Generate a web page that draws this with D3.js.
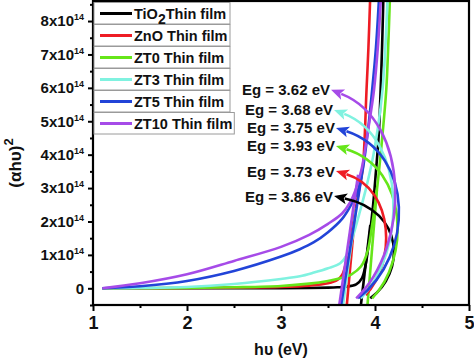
<!DOCTYPE html>
<html><head><meta charset="utf-8">
<script src="https://cdn.jsdelivr.net/npm/d3@7"></script>
<style>
body{margin:0;background:#fff}
svg{display:block}
text{font-family:Arial,"Liberation Sans",sans-serif;font-weight:bold;fill:#111}
</style>
</head><body>
<svg id="c" width="474" height="360"></svg>
<script>
// ---------------- data ----------------
const seriesNames = ["TiO", "ZnO ", "ZT0 ", "ZT3 ", "ZT5 ", "ZT10 "];
const legendSuffix = "Thin film";
const colors = ["#000000", "#ee1c24", "#66e619", "#80f2e0", "#2244d8", "#a64be8"];

const tio2Hv  = [1.1,1.5,2.0,2.5,3.0,3.3,3.5,3.6,3.7,3.8,3.86,3.9,3.94,3.98,4.01,4.04,4.06,4.075,4.09];
const tio2Val = [0,0,0,0,0,0.01,0.02,0.03,0.05,0.12,0.3,0.7,1.5,2.5,3.5,4.6,5.95,7.2,8.8];
const znoHv   = [1.1,1.5,2.0,2.5,3.0,3.3,3.5,3.6,3.65,3.69,3.74,3.79,3.83,3.87,3.91,3.93,3.95];
const znoVal  = [0,0,0.01,0.02,0.04,0.08,0.15,0.25,0.4,0.75,1.5,2.3,2.94,3.6,5.95,7.2,8.8];
const zt0Hv   = [1.1,1.5,2.0,2.5,3.0,3.3,3.5,3.63,3.75,3.85,3.92,3.97,4.02,4.07,4.12,4.14,4.16];
const zt0Val  = [0,0,0.01,0.03,0.07,0.14,0.22,0.3,0.42,0.65,1.1,1.9,2.94,4.3,5.95,7.2,8.8];
const zt3Hv   = [1.1,1.5,2.0,2.5,3.0,3.2,3.35,3.5,3.63,3.7,3.76,3.83,3.9,3.97,4.03,4.08,4.11,4.135];
const zt3Val  = [0,0.01,0.04,0.13,0.28,0.36,0.47,0.6,0.75,1.0,1.5,2.2,2.94,3.8,4.8,5.95,7.2,8.8];
const zt5Hv   = [1.1,1.5,2.0,2.5,3.0,3.2,3.35,3.5,3.65,3.73,3.8,3.86,3.92,3.97,4.01,4.045];
const zt5Val  = [0,0.06,0.22,0.52,0.95,1.17,1.38,1.68,2.08,2.42,2.8,3.4,4.6,5.95,7.2,8.8];
const zt10Hv  = [1.1,1.5,2.0,2.5,3.0,3.3,3.5,3.65,3.73,3.8,3.86,3.93,3.99,4.03,4.065];
const zt10Val = [0,0.15,0.42,0.82,1.24,1.6,1.93,2.24,2.55,3.0,3.6,4.8,5.95,7.2,8.8];

const seriesHv  = [tio2Hv, znoHv, zt0Hv, zt3Hv, zt5Hv, zt10Hv];
const seriesVal = [tio2Val, znoVal, zt0Val, zt3Val, zt5Val, zt10Val];

// extrapolated linear fits (hv, value pairs)
const tangentHv  = [[3.85,3.95],[3.70,3.79],[3.92,4.02],[3.66,3.80],[3.64,3.86],[3.62,3.82]];
const tangentVal = [[-0.5,1.9],[-0.5,2.3],[-0.5,2.94],[-0.5,2.4],[-0.5,3.4],[-0.5,3.4]];

// band-gap annotations (anchored in data units)
const egLabels    = ["Eg = 3.86 eV","Eg = 3.73 eV","Eg = 3.93 eV","Eg = 3.68 eV","Eg = 3.75 eV","Eg = 3.62 eV"];
const arrowTipHv  = [3.564,3.585,3.585,3.564,3.585,3.532];
const arrowTipVal = [2.76,3.51,4.26,5.34,4.80,5.94];
const arrowBulge  = [4.18,4.10,4.22,4.18,4.24,4.20];
const arrowEndHv  = [3.95,3.90,3.97,3.85,3.82,3.80];
const arrowEndVal = [-0.3,-0.2,-0.3,-0.3,-0.3,-0.3];

const xTicks = [1,2,3,4,5];
const xMinor = [1.5,2.5,3.5,4.5];
const yTicks = [0,1,2,3,4,5,6,7,8];
const yMinor = [-0.5,0.5,1.5,2.5,3.5,4.5,5.5,6.5,7.5,8.5];

// ---------------- chart ----------------
const svg = d3.select("#c");
const x = d3.scaleLinear().domain([1,5]).range([93,469]);
const y = d3.scaleLinear().domain([-0.5,8.6]).range([305,1]);

svg.append("defs").append("clipPath").attr("id","clip")
  .append("rect").attr("x",x(1)).attr("y",y(8.6)).attr("width",x(5)-x(1)).attr("height",y(-0.5)-y(8.6));

const plot = svg.append("g").attr("clip-path","url(#clip)");
const line = d3.line().x(d=>x(d[0])).y(d=>y(d[1])).curve(d3.curveCatmullRom.alpha(0.5));
const straight = d3.line().x(d=>x(d[0])).y(d=>y(d[1]));

seriesHv.forEach((hv,i)=>{
  const pts = hv.map((h,j)=>[h, seriesVal[i][j]]);
  plot.append("path").attr("d", line(pts)).attr("fill","none")
    .attr("stroke", colors[i]).attr("stroke-width",2.6).attr("stroke-linejoin","round");
  const tp = tangentHv[i].map((h,j)=>[h, tangentVal[i][j]]);
  plot.append("path").attr("d", straight(tp)).attr("fill","none")
    .attr("stroke", colors[i]).attr("stroke-width",2.6);
});

// arrows
egLabels.forEach((lab,i)=>{
  const sx = x(arrowTipHv[i]), sy = y(arrowTipVal[i]);
  const ex = x(arrowEndHv[i]), ey = y(arrowEndVal[i]);
  const xc = (x(arrowBulge[i]) - 0.125*(sx+ex))/0.75;
  const c1y = sy + 0.15*(ey-sy), c2y = ey - 0.25*(ey-sy);
  const dx = xc - sx, dy = c1y - sy, L = Math.hypot(dx,dy);
  const ux = dx/L, uy = dy/L;
  const hl = 13, hw = 5.5;
  const bx = sx + ux*hl, by = sy + uy*hl;
  plot.append("path")
    .attr("d", `M${bx - ux*2},${by - uy*2} C${xc},${c1y} ${xc},${c2y} ${ex},${ey}`)
    .attr("fill","none").attr("stroke",colors[i]).attr("stroke-width",2.6);
  plot.append("path")
    .attr("d", `M${sx},${sy} L${bx - uy*hw},${by + ux*hw} L${bx - ux*3},${by - uy*3} L${bx + uy*hw},${by - ux*hw} Z`)
    .attr("fill",colors[i]);
  svg.append("text").attr("x", sx-1).attr("y", sy+5.5).attr("text-anchor","end")
    .style("font-size","15px").text(lab);
});

// axes
const gx = svg.append("g").attr("transform",`translate(0,${y(-0.5)})`);
gx.call(d3.axisBottom(x).tickValues(xTicks).tickSize(6).tickSizeOuter(0).tickPadding(5).tickFormat(d3.format("d")));
const gxm = svg.append("g").attr("transform",`translate(0,${y(-0.5)})`);
gxm.call(d3.axisBottom(x).tickValues(xMinor).tickSize(3).tickSizeOuter(0).tickFormat(""));
const gy = svg.append("g").attr("transform",`translate(${x(1)},0)`);
gy.call(d3.axisLeft(y).tickValues(yTicks).tickSize(5).tickSizeOuter(0).tickPadding(4));
const gym = svg.append("g").attr("transform",`translate(${x(1)},0)`);
gym.call(d3.axisLeft(y).tickValues(yMinor).tickSize(3).tickSizeOuter(0).tickFormat(""));

[gx,gxm,gy,gym].forEach(g=>{
  g.selectAll("path.domain").remove();
  g.selectAll(".tick line").attr("stroke","#000").attr("stroke-width",2);
});
gx.selectAll(".tick text").style("font-size","18px").style("font-family","Arial,'Liberation Sans',sans-serif").style("font-weight","bold").attr("fill","#111");
gy.selectAll(".tick text").each(function(d){
  const t = d3.select(this).text("").attr("fill","#111")
    .style("font-size","15px").style("font-family","Arial,'Liberation Sans',sans-serif").style("font-weight","bold");
  if(d===0){ t.text("0"); return; }
  t.append("tspan").text(d+"x10");
  t.append("tspan").attr("dy",-6).style("font-size","9px").text("14");
});

// frame
svg.append("rect").attr("x",x(1)).attr("y",y(8.6)).attr("width",x(5)-x(1)).attr("height",y(-0.5)-y(8.6))
  .attr("fill","none").attr("stroke","#000").attr("stroke-width",2.2);

// legend
seriesNames.forEach((nm,i)=>{
  const cy = 13.5 + i*22;
  const g = svg.append("g");
  const rect = g.append("rect").attr("x",94).attr("y",cy-11).attr("height",21.5)
    .attr("fill","#fff").attr("stroke","#9a9a9a").attr("stroke-width",1);
  g.append("line").attr("x1",100).attr("x2",132).attr("y1",cy).attr("y2",cy)
    .attr("stroke",colors[i]).attr("stroke-width",3);
  const t = g.append("text").attr("x",134).attr("y",cy+5).style("font-size","14.5px");
  t.append("tspan").text(nm);
  if(i===0){
    t.append("tspan").attr("dy",5).style("font-size","14px").text("2");
    t.append("tspan").attr("dy",-5).text(legendSuffix);
  } else {
    t.append("tspan").text(legendSuffix);
  }
  const w = t.node().getComputedTextLength();
  rect.attr("width", Math.max(136, 134 + w + 2 - 94));
});

// axis titles
svg.append("text").attr("x",x(3)).attr("y",355).attr("text-anchor","middle")
  .style("font-size","16px").text("h\u03C5 (eV)");
const yt = svg.append("text").attr("transform","translate(21,163) rotate(-90)")
  .attr("text-anchor","middle").style("font-size","17px");
yt.append("tspan").text("(\u03B1h\u03C5)");
yt.append("tspan").attr("dy",-8).style("font-size","13px").text("2");
</script>
</body></html>
